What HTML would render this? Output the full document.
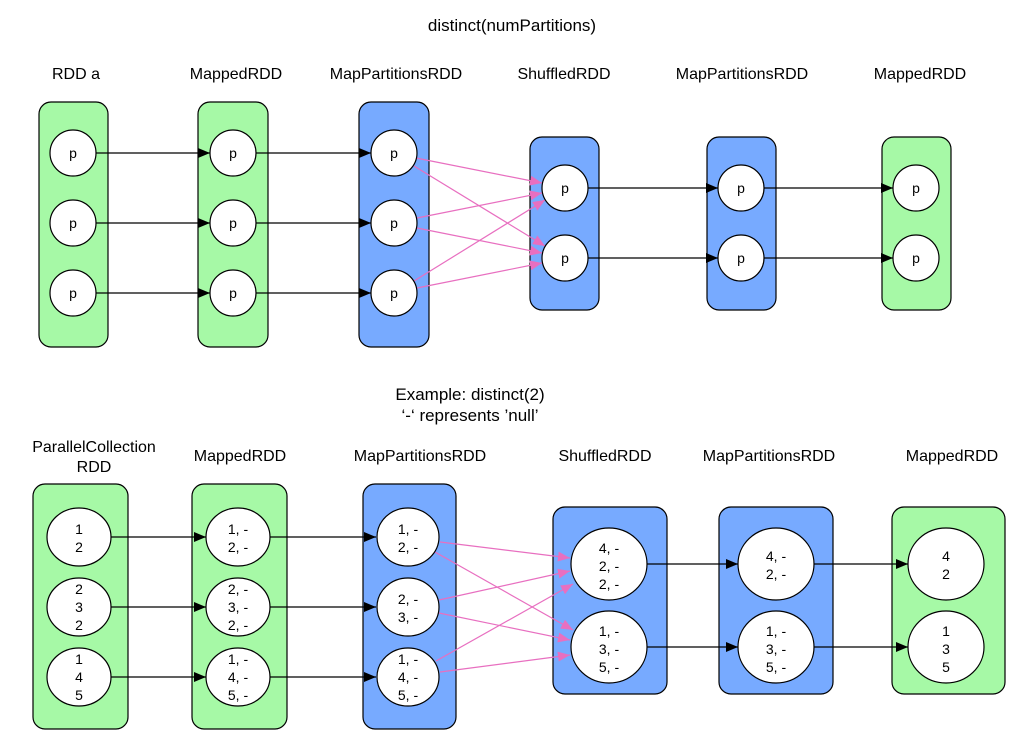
<!DOCTYPE html><html><head><style>body{margin:0;background:#fff}text{font-family:"Liberation Sans",sans-serif;fill:#000}</style></head><body>
<svg width="1031" height="742" xmlns="http://www.w3.org/2000/svg">
<defs><marker id="a" markerWidth="12" markerHeight="10" refX="12" refY="5" orient="auto" markerUnits="userSpaceOnUse"><path d="M0,0L12,5L0,10z" fill="#000"/></marker>
<marker id="p" markerWidth="12" markerHeight="10" refX="12" refY="5" orient="auto" markerUnits="userSpaceOnUse"><path d="M0,0L12,5L0,10z" fill="#e86fc0"/></marker></defs>
<g font-size="17" text-anchor="middle">
<text x="512" y="31">distinct(numPartitions)</text>
<text x="470" y="400">Example: distinct(2)</text>
<text x="470" y="421">‘-‘ represents ’null’</text>
</g>
<g font-size="16" text-anchor="middle">
<text x="76" y="79">RDD a</text><text x="236" y="79">MappedRDD</text><text x="396" y="79">MapPartitionsRDD</text>
<text x="564" y="79">ShuffledRDD</text><text x="742" y="79">MapPartitionsRDD</text><text x="920" y="79">MappedRDD</text>
<text x="94" y="452">ParallelCollection</text><text x="94" y="472">RDD</text>
<text x="240" y="461">MappedRDD</text><text x="420" y="461">MapPartitionsRDD</text><text x="605" y="461">ShuffledRDD</text>
<text x="769" y="461">MapPartitionsRDD</text><text x="952" y="461">MappedRDD</text>
</g>
<g stroke="#000" stroke-width="1.2">
<rect x="39" y="102" width="69" height="245" rx="12" fill="#a6f9a6"/>
<rect x="198" y="102" width="70" height="245" rx="12" fill="#a6f9a6"/>
<rect x="359" y="102" width="70" height="245" rx="12" fill="#77aaff"/>
<rect x="530" y="137" width="69" height="173" rx="12" fill="#77aaff"/>
<rect x="707" y="137" width="69" height="173" rx="12" fill="#77aaff"/>
<rect x="882" y="137" width="69" height="173" rx="12" fill="#a6f9a6"/>
<rect x="33" y="484" width="95" height="245" rx="12" fill="#a6f9a6"/>
<rect x="192" y="484" width="95" height="245" rx="12" fill="#a6f9a6"/>
<rect x="363" y="484" width="93" height="245" rx="12" fill="#77aaff"/>
<rect x="553" y="507" width="114" height="187" rx="12" fill="#77aaff"/>
<rect x="719" y="507" width="114" height="187" rx="12" fill="#77aaff"/>
<rect x="892" y="507" width="113" height="187" rx="12" fill="#a6f9a6"/>
</g>
<g stroke="#000" stroke-width="1.3" marker-end="url(#a)">
<line x1="96" y1="153" x2="210" y2="153"/><line x1="96" y1="223" x2="210" y2="223"/><line x1="96" y1="293" x2="210" y2="293"/>
<line x1="256" y1="153" x2="371" y2="153"/><line x1="256" y1="223" x2="371" y2="223"/><line x1="256" y1="293" x2="371" y2="293"/>
<line x1="588" y1="188" x2="718" y2="188"/><line x1="588" y1="258" x2="718" y2="258"/>
<line x1="764" y1="188" x2="893" y2="188"/><line x1="764" y1="258" x2="893" y2="258"/>
<line x1="111" y1="537" x2="206" y2="537"/><line x1="111" y1="607" x2="206" y2="607"/><line x1="111" y1="677" x2="206" y2="677"/>
<line x1="270" y1="537" x2="376" y2="537"/><line x1="270" y1="607" x2="376" y2="607"/><line x1="270" y1="677" x2="376" y2="677"/>
<line x1="646" y1="564" x2="738" y2="564"/><line x1="646" y1="647" x2="738" y2="647"/>
<line x1="814" y1="564" x2="908" y2="564"/><line x1="814" y1="647" x2="908" y2="647"/>
</g>
<g stroke="#e86fc0" stroke-width="1.2" marker-end="url(#p)">
<line x1="416" y1="158" x2="542" y2="183"/><line x1="414" y1="166" x2="545" y2="246"/>
<line x1="417" y1="218" x2="542" y2="193"/><line x1="417" y1="228" x2="542" y2="253"/>
<line x1="414" y1="281" x2="545" y2="200"/><line x1="417" y1="288" x2="542" y2="263"/>
<line x1="440" y1="542" x2="570" y2="558"/><line x1="435" y1="552" x2="573" y2="630"/>
<line x1="439" y1="600" x2="570" y2="571"/><line x1="439" y1="613" x2="570" y2="640"/>
<line x1="436" y1="661" x2="573" y2="584"/><line x1="440" y1="672" x2="570" y2="655"/>
</g>
<g stroke="#000" stroke-width="1.2" fill="#fff">
<circle cx="73" cy="153" r="23"/><circle cx="73" cy="223" r="23"/><circle cx="73" cy="293" r="23"/>
<circle cx="233" cy="153" r="23"/><circle cx="233" cy="223" r="23"/><circle cx="233" cy="293" r="23"/>
<circle cx="394" cy="153" r="23"/><circle cx="394" cy="223" r="23"/><circle cx="394" cy="293" r="23"/>
<circle cx="565" cy="188" r="23"/><circle cx="565" cy="258" r="23"/>
<circle cx="741" cy="188" r="23"/><circle cx="741" cy="258" r="23"/>
<circle cx="916" cy="188" r="23"/><circle cx="916" cy="258" r="23"/>
<ellipse cx="79" cy="537" rx="32" ry="29"/><ellipse cx="79" cy="607" rx="32" ry="29"/><ellipse cx="79" cy="677" rx="32" ry="29"/>
<ellipse cx="238" cy="537" rx="32" ry="29"/><ellipse cx="238" cy="607" rx="32" ry="29"/><ellipse cx="238" cy="677" rx="32" ry="29"/>
<ellipse cx="408" cy="537" rx="31" ry="29"/><ellipse cx="408" cy="607" rx="31" ry="29"/><ellipse cx="408" cy="677" rx="31" ry="29"/>
<ellipse cx="609" cy="564" rx="38" ry="36"/><ellipse cx="609" cy="647" rx="38" ry="36"/>
<ellipse cx="776" cy="564" rx="38" ry="36"/><ellipse cx="776" cy="647" rx="38" ry="36"/>
<ellipse cx="946" cy="564" rx="38" ry="36"/><ellipse cx="946" cy="647" rx="38" ry="36"/>
</g>
<g font-size="14" text-anchor="middle">
<text x="73" y="158">p</text><text x="73" y="228">p</text><text x="73" y="298">p</text>
<text x="233" y="158">p</text><text x="233" y="228">p</text><text x="233" y="298">p</text>
<text x="394" y="158">p</text><text x="394" y="228">p</text><text x="394" y="298">p</text>
<text x="565" y="193">p</text><text x="565" y="263">p</text>
<text x="741" y="193">p</text><text x="741" y="263">p</text>
<text x="916" y="193">p</text><text x="916" y="263">p</text>
</g>
<g font-size="14" text-anchor="middle">
<text x="79" y="534">1</text><text x="79" y="552">2</text>
<text x="79" y="594">2</text><text x="79" y="612">3</text><text x="79" y="630">2</text>
<text x="79" y="664">1</text><text x="79" y="682">4</text><text x="79" y="700">5</text>
<text x="238" y="534">1, -</text><text x="238" y="552">2, -</text>
<text x="238" y="594">2, -</text><text x="238" y="612">3, -</text><text x="238" y="630">2, -</text>
<text x="238" y="664">1, -</text><text x="238" y="682">4, -</text><text x="238" y="700">5, -</text>
<text x="408" y="534">1, -</text><text x="408" y="552">2, -</text>
<text x="408" y="604">2, -</text><text x="408" y="622">3, -</text>
<text x="408" y="664">1, -</text><text x="408" y="682">4, -</text><text x="408" y="700">5, -</text>
<text x="609" y="553">4, -</text><text x="609" y="571">2, -</text><text x="609" y="589">2, -</text>
<text x="609" y="636">1, -</text><text x="609" y="654">3, -</text><text x="609" y="672">5, -</text>
<text x="776" y="561">4, -</text><text x="776" y="579">2, -</text>
<text x="776" y="636">1, -</text><text x="776" y="654">3, -</text><text x="776" y="672">5, -</text>
<text x="946" y="561">4</text><text x="946" y="579">2</text>
<text x="946" y="636">1</text><text x="946" y="654">3</text><text x="946" y="672">5</text>
</g>
</svg></body></html>
